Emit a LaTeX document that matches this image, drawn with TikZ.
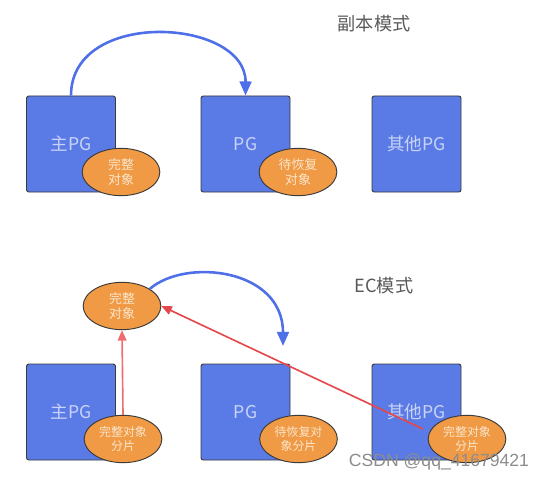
\documentclass[tikz,border=0pt]{standalone}
\usepackage{fontspec}
\setmainfont{Noto Sans CJK SC}
\newfontfamily\markfont{Liberation Sans}
\usetikzlibrary{arrows.meta,shapes.geometric}
\definecolor{pgblue}{HTML}{5A7BE6}
\definecolor{pgtext}{HTML}{C9D3F7}
\definecolor{objorange}{HTML}{F09A45}
\definecolor{objtext}{HTML}{FBE6CC}
\definecolor{edgegray}{HTML}{3A3A3A}
\definecolor{arcblue}{HTML}{4F6FE8}
\definecolor{fetchred}{HTML}{E5484B}
\definecolor{fetchpink}{HTML}{EE6E70}
\begin{document}
\begin{tikzpicture}[x=0.03cm, y=-0.03cm,
        pg/.style={rectangle, draw=edgegray, thick, fill=pgblue, rounded corners=2pt, minimum width=2.67cm, minimum height=2.88cm, text=pgtext, font=\fontsize{15}{17}\selectfont},
        obj/.style={ellipse, draw=edgegray, thick, fill=objorange, minimum width=2.33cm, minimum height=1.42cm, inner sep=1pt, text=objtext, align=center, font=\fontsize{10.2}{12.5}\selectfont},
        objlarge/.style={obj, font=\fontsize{11}{13.5}\selectfont},
        title/.style={text=black!65, font=\fontsize{15.5}{18}\selectfont},
        move/.style={-{Triangle[length=12pt,width=10pt]}, line width=2.2pt, arcblue},
        fetch/.style={-{Triangle[length=9pt,width=7.5pt]}, line width=1.4pt}
    ]
        \useasboundingbox (0,0) rectangle (539,480);

        % 副本模式
        \node[title] (reptitle) at (374,24) {副本模式};
        \node[pg] (rmain) at (71,144) {主PG};
        \node[pg] (rpg) at (245.5,144) {PG};
        \node[pg] (rother) at (416.5,144) {其他PG};
        \node[objlarge] (rfull) at (121,172) {完整\\对象};
        \node[objlarge] (rwait) at (298,172) {待恢复\\对象};
        \draw[move] (rmain.north) .. controls (71,8) and (246,18) .. (rpg.north);

        % EC模式
        \node[title] (ectitle) at (384,286) {EC模式};
        \node[pg] (emain) at (71,412) {主PG};
        \node[pg] (epg) at (245.5,412) {PG};
        \node[pg] (eother) at (416.5,412) {其他PG};
        \node[objlarge] (efull) at (122,306) {完整\\对象};
        \node[obj] (eshard) at (123,439) {完整对象\\分片};
        \node[obj] (ewait) at (298.5,439) {待恢复对\\象分片};
        \node[obj] (eothershard) at (467,439) {完整对象\\分片};
        \coordinate (eland) at (283,346);
        \coordinate (estart) at (423,429);
        \draw[move] (efull.north east) .. controls (185,258) and (283,268) .. (eland);
        \draw[fetch, fetchpink] (eshard.north) -- (efull.south);
        \draw[fetch, fetchred] (estart) -- (efull.east);

        \node[text=black!45, font=\fontsize{15}{17}\selectfont\markfont] (mark) at (439,462) {CSDN @qq\_41679421};
    \end{tikzpicture}
\end{document}
